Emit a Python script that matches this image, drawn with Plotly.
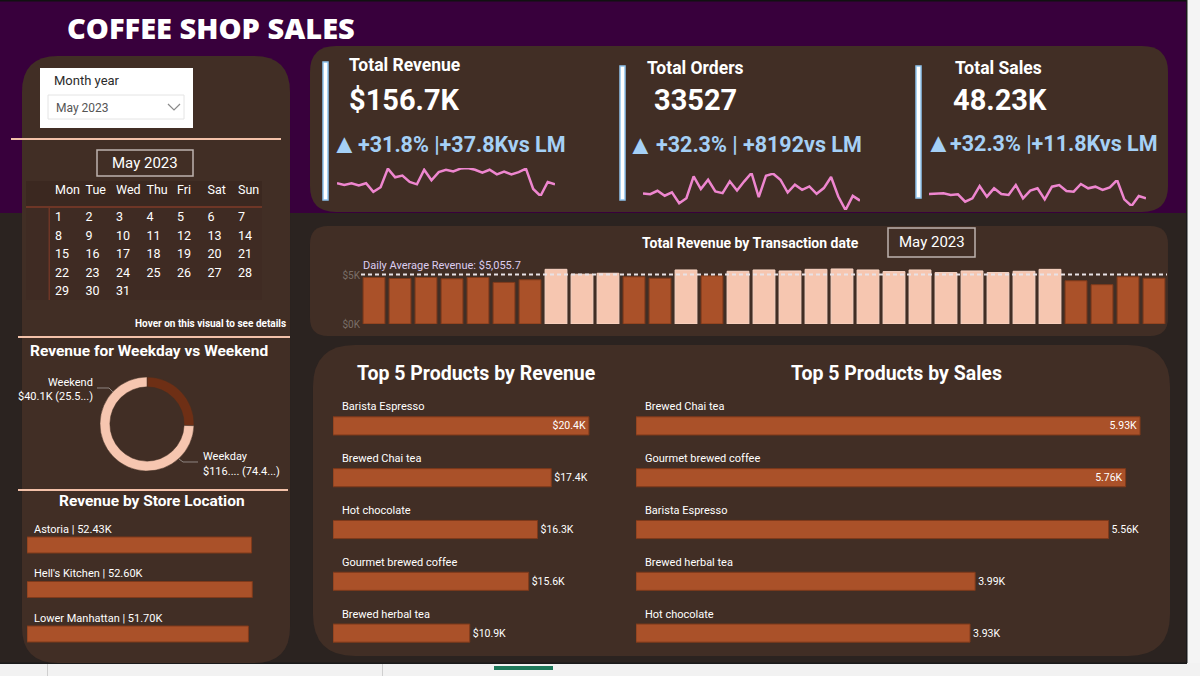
import calendar
import plotly.graph_objects as go

W, H = 1200, 676
YSPAN = 670  # vertical span used to map reference pixel rows onto the paper
FONT = "Roboto"

# ---------------- data ----------------
days = list(range(1, 32))
daily_revenue = [4745, 4644, 4745, 4614, 4745, 4247, 4514, 5583, 5082, 5180, 4815, 4681,
                 5517, 4916, 5383, 5517, 5416, 5583, 5617, 5517, 5350, 5517, 5249, 5416,
                 5249, 5383, 5578, 4414, 4013, 4815, 4681]
daily_orders = [1050, 1045, 1070, 1033, 1058, 977, 1015, 1177, 1083, 1152, 1065, 1052,
                1140, 1072, 1140, 1202, 1022, 1182, 1197, 1152, 1057, 1115, 1077, 1102,
                1047, 1090, 1172, 1027, 927, 1032, 997]
daily_sales = [1536, 1536, 1544, 1524, 1532, 1444, 1484, 1632, 1504, 1604, 1536, 1524,
               1644, 1484, 1576, 1604, 1472, 1624, 1644, 1572, 1564, 1656, 1604, 1624,
               1584, 1616, 1704, 1472, 1392, 1512, 1484]
revenue_delta = ["+31.8%", "+37.8K"]
orders_delta = ["+32.3%", "+8192"]
sales_delta = ["+32.3%", "+11.8K"]

day_types = ["Weekend", "Weekday"]
day_type_revenue = [40.1, 116.6]
day_type_labels = ["$40.1K (25.5...)", "$116.... (74.4...)"]

stores = ["Astoria", "Hell's Kitchen", "Lower Manhattan"]
store_revenue = [52.43, 52.60, 51.70]

top_rev_products = ["Barista Espresso", "Brewed Chai tea", "Hot chocolate",
                    "Gourmet brewed coffee", "Brewed herbal tea"]
top_rev_values = [20.4, 17.4, 16.3, 15.6, 10.9]
top_sales_products = ["Brewed Chai tea", "Gourmet brewed coffee", "Barista Espresso",
                      "Brewed herbal tea", "Hot chocolate"]
top_sales_values = [5.93, 5.76, 5.56, 3.99, 3.93]

weekday_names = ["Mon", "Tue", "Wed", "Thu", "Fri", "Sat", "Sun"]
year, month = 2023, 5
month_label = "May 2023"
rev_ticks = [0, 5000]
rev_tick_labels = ["$0K", "$5K"]

# ---------------- colours ----------------
PURPLE = "#38003c"
BG = "#2b2320"
PANEL = "#412e25"
DARK_BAR = "#aa5129"
LIGHT_BAR = "#f6c6b0"
PEACH = "#f3c1a9"
BLUE = "#a5d0f6"
PINK = "#ee86cf"

def px(x): return x / W
def py(y): return 1 - y / YSPAN
def dom_x(a, b): return [a / W, b / W]
def dom_y(top, bottom): return [max(0.0, py(bottom)), py(top)]

shapes, annotations = [], []

def rect(x0, y0, x1, y1, fill, line=None, lw=0, opacity=1):
    shapes.append(dict(type="rect", xref="paper", yref="paper", x0=px(x0), x1=px(x1),
                       y0=py(y1), y1=py(y0), fillcolor=fill, opacity=opacity,
                       line=dict(color=line or fill, width=lw), layer="below"))

def rrect(x0, y0, x1, y1, r, fill):
    P = lambda x, y: f"{px(x):.5f},{py(y):.5f}"
    path = (f"M {P(x0 + r, y0)} L {P(x1 - r, y0)} Q {P(x1, y0)} {P(x1, y0 + r)} "
            f"L {P(x1, y1 - r)} Q {P(x1, y1)} {P(x1 - r, y1)} L {P(x0 + r, y1)} "
            f"Q {P(x0, y1)} {P(x0, y1 - r)} L {P(x0, y0 + r)} Q {P(x0, y0)} {P(x0 + r, y0)} Z")
    shapes.append(dict(type="path", xref="paper", yref="paper", path=path,
                       fillcolor=fill, line=dict(width=0), layer="below"))

def seg(pts, color, w):
    P = lambda x, y: f"{px(x):.5f},{py(y):.5f}"
    path = "M " + " L ".join(P(x, y) for x, y in pts)
    shapes.append(dict(type="path", xref="paper", yref="paper", path=path,
                       line=dict(color=color, width=w), layer="below"))

def text(x, y, s, size, color="white", anchor="left", bold=False, family=FONT, weight=None):
    f = dict(size=size, color=color, family=family)
    if weight:
        f["weight"] = weight
    annotations.append(dict(xref="paper", yref="paper", x=px(x), y=py(y),
                            text=f"<b>{s}</b>" if bold else s, showarrow=False,
                            xanchor=anchor, yanchor="middle", font=f))

# ---------------- background ----------------
rect(0, 0, 1200, 690, BG)
rect(0, 0, 1187, 213, PURPLE)
rect(0, 0, 1200, 1.5, "#111111")
rect(1187, 0, 1200, 690, "#f4f4f4")
rect(1186, 0, 1187.5, 664, "#1a1a1a")
rect(0, 663, 1200, 690, "#f2f2f2")
rect(0, 662.5, 1187, 664, "#1a1a1a")
rect(47, 664, 48, 690, "#cfcfcf")
rect(382, 664, 383, 690, "#cfcfcf")
rect(494, 666, 553, 670, "#1f7a5c")

# panels
rrect(22, 56, 290, 663, 36, PANEL)
rrect(310, 46, 1168, 212, 26, PANEL)
rrect(310, 226, 1168, 336, 18, PANEL)
rrect(313, 345, 1170, 656, 42, PANEL)

# title
text(65, 28, "COFFEE SHOP SALES", 29, family="Open Sans", weight=800)

# ---------------- left panel ----------------
rect(40, 68, 193, 128, "#ffffff")
text(52, 81, "Month year", 13, color="#2b2b2b")
rect(48, 95, 184, 119, "#ffffff", line="#e4e4e4", lw=1)
text(54, 108, month_label, 12, color="#555555")
seg([(168, 104), (174, 110), (180, 104)], "#8a8a8a", 1.2)
rect(11, 138, 281, 140, PEACH)

rect(97, 150, 193, 176, PANEL, line="#bdb3ae", lw=1.5)
text(145, 163, month_label, 15, anchor="center")
rect(26, 181, 262, 300, "#3f2b23")
rect(26, 181, 262, 206, "#3b2820")
rect(26, 206, 262, 208, "#6e3626")
rect(48.5, 208, 50, 300, "#6e3626")
text(288, 323, "Hover on this visual to see details", 10, anchor="right", bold=True)

rect(18, 336, 290, 338, PEACH)
text(28, 351, "Revenue for Weekday vs Weekend", 15.5, bold=True)
text(95, 382, day_types[0], 11, anchor="right")
text(95, 397, day_type_labels[0], 11, anchor="right")
text(201, 456, day_types[1], 11)
text(201, 471, day_type_labels[1], 11)
seg([(97, 388), (109, 388), (113, 392)], "#8e8580", 1)
seg([(179, 459), (183, 462), (198, 462)], "#8e8580", 1)

rect(18, 489, 288, 491, PEACH)
text(152, 501, "Revenue by Store Location", 15.5, anchor="center", bold=True)

# ---------------- KPI cards ----------------
cards = [
    dict(bar=(323, 62, 200), tx=347, ty=65, title="Total Revenue",
         value=f"${sum(daily_revenue) / 1000:.1f}K", vx=347,
         tri=329, dx=356, dy=144, delta=f"{revenue_delta[0]} |{revenue_delta[1]}vs LM"),
    dict(bar=(620, 66, 200), tx=645, ty=68, title="Total Orders",
         value=f"{sum(daily_orders)}", vx=652,
         tri=625, dx=654, dy=145, delta=f"{orders_delta[0]} | {orders_delta[1]}vs LM"),
    dict(bar=(916, 66, 198), tx=953, ty=68, title="Total Sales",
         value=f"{sum(daily_sales) / 1000:.2f}K", vx=951,
         tri=923, dx=948, dy=143, delta=f"{sales_delta[0]} |{sales_delta[1]}vs LM"),
]
for c in cards:
    bx, b0, b1 = c["bar"]
    rect(bx, b0, bx + 5, b1, "#ffffff", line="#8fc4ee", lw=1.5)
    text(c["tx"], c["ty"], c["title"], 17.5, bold=True)
    text(c["vx"], 100, c["value"], 29, bold=True)
    text(c["tri"], c["dy"], "▲", 27, color=BLUE)
    text(c["dx"], c["dy"], c["delta"], 21.5, color=BLUE, bold=True)

# ---------------- daily revenue panel ----------------
text(750, 243, "Total Revenue by Transaction date", 14, anchor="center", bold=True)
rect(888, 228, 975, 257, PANEL, line="#bdb3ae", lw=1.5)
text(932, 242, month_label, 15, anchor="center")

avg_rev = sum(daily_revenue) / len(daily_revenue)
bar_colors = [LIGHT_BAR if v > avg_rev else DARK_BAR for v in daily_revenue]
bar_lines = ["#f9d6c6" if v > avg_rev else "#7f3a1b" for v in daily_revenue]

fig = go.Figure()
fig.add_trace(go.Bar(x=days, y=daily_revenue, marker=dict(color=bar_colors,
                     line=dict(color=bar_lines, width=1)), width=0.84,
                     xaxis="x", yaxis="y", hoverinfo="skip"))
fig.add_trace(go.Scatter(x=[0.5, 31.5], y=[avg_rev, avg_rev], mode="lines",
                         line=dict(color="#e8e2e6", width=2, dash="4px,3px"),
                         xaxis="x", yaxis="y", hoverinfo="skip"))
annotations.append(dict(xref="x", yref="y", x=0.5, y=avg_rev, xanchor="left",
                        yanchor="bottom", showarrow=False,
                        text=f"Daily Average Revenue: ${avg_rev:,.1f}",
                        font=dict(size=11, color="#dccdf0", family=FONT)))

# sparklines
for vals, ax, ay in [(daily_revenue, "x2", "y2"), (daily_orders, "x3", "y3"),
                     (daily_sales, "x4", "y4")]:
    fig.add_trace(go.Scatter(x=days, y=vals, mode="lines",
                             line=dict(color=PINK, width=2.5),
                             xaxis=ax, yaxis=ay, hoverinfo="skip"))

# calendar
weeks = calendar.monthcalendar(year, month)
cal_x, cal_y, cal_t = [], [], []
for r, wk in enumerate(weeks):
    for ci, d in enumerate(wk):
        if d:
            cal_x.append(ci); cal_y.append(r); cal_t.append(str(d))
fig.add_trace(go.Scatter(x=list(range(7)), y=[-1.46] * 7, text=weekday_names,
                         mode="text", textposition="middle right",
                         textfont=dict(size=12.5, color="white", family=FONT),
                         xaxis="x5", yaxis="y5", hoverinfo="skip", cliponaxis=False))
fig.add_trace(go.Scatter(x=cal_x, y=cal_y, text=cal_t, mode="text",
                         textposition="middle right",
                         textfont=dict(size=12.5, color="white", family=FONT),
                         xaxis="x5", yaxis="y5", hoverinfo="skip", cliponaxis=False))

# store bars
store_idx = list(range(len(stores)))
fig.add_trace(go.Bar(x=store_revenue, y=store_idx, orientation="h", width=0.36,
                     marker=dict(color=DARK_BAR, line=dict(color="#7f3a1b", width=1)),
                     xaxis="x6", yaxis="y6", hoverinfo="skip"))
for i, (s, v) in enumerate(zip(stores, store_revenue)):
    annotations.append(dict(xref="x6", yref="y6", x=0, y=i, xanchor="left",
                            yanchor="middle", xshift=5, yshift=16, showarrow=False,
                            text=f"{s} | {v:.2f}K",
                            font=dict(size=11, color="white", family=FONT)))

# top 5 products
rev_idx = list(range(len(top_rev_products)))
fig.add_trace(go.Bar(x=top_rev_values, y=rev_idx, orientation="h", width=0.35,
                     marker=dict(color=DARK_BAR, line=dict(color="#7f3a1b", width=1)),
                     text=[f"${v:.1f}K" for v in top_rev_values],
                     textposition=["inside"] + ["outside"] * 4,
                     insidetextanchor="end", constraintext="none", textangle=0,
                     textfont=dict(size=10.5, color="white", family=FONT),
                     cliponaxis=False, xaxis="x7", yaxis="y7", hoverinfo="skip"))
sales_idx = list(range(len(top_sales_products)))
fig.add_trace(go.Bar(x=top_sales_values, y=sales_idx, orientation="h", width=0.35,
                     marker=dict(color=DARK_BAR, line=dict(color="#7f3a1b", width=1)),
                     text=[f"{v:.2f}K" for v in top_sales_values],
                     textposition=["inside"] * 2 + ["outside"] * 3,
                     insidetextanchor="end", constraintext="none", textangle=0,
                     textfont=dict(size=10.5, color="white", family=FONT),
                     cliponaxis=False, xaxis="x8", yaxis="y8", hoverinfo="skip"))
for names, ax, ay in [(top_rev_products, "x7", "y7"), (top_sales_products, "x8", "y8")]:
    for i, n in enumerate(names):
        annotations.append(dict(xref=ax, yref=ay, x=0, y=i, xanchor="left",
                                yanchor="middle", xshift=7, yshift=19, showarrow=False,
                                text=n, font=dict(size=11, color="white", family=FONT)))
text(476, 373, "Top 5 Products by Revenue", 19.5, anchor="center", bold=True)
text(896, 373, "Top 5 Products by Sales", 19.5, anchor="center", bold=True)

# donut
fig.add_trace(go.Pie(labels=day_types, values=day_type_revenue, hole=0.79, sort=False,
                     direction="counterclockwise", rotation=0, textinfo="none",
                     marker=dict(colors=["#6e2f15", LIGHT_BAR], line=dict(color=PANEL, width=0.5)),
                     domain=dict(x=dom_x(100, 194), y=dom_y(377, 471)),
                     hoverinfo="skip", showlegend=False))

hidden = dict(visible=False, showgrid=False, zeroline=False, fixedrange=True)
layout_axes = dict(
    xaxis=dict(hidden, domain=dom_x(361, 1167), range=[0.5, 31.5], anchor="y"),
    yaxis=dict(domain=dom_y(262, 324), range=[0, 6330], tickvals=rev_ticks,
               ticktext=rev_tick_labels, showgrid=False, zeroline=False, showline=False,
               ticks="", tickfont=dict(size=10, color="#7a6e68", family=FONT),
               anchor="x", fixedrange=True),
    xaxis2=dict(hidden, domain=dom_x(337, 555), range=[1, 31], anchor="y2"),
    yaxis2=dict(hidden, domain=dom_y(168, 196), range=[min(daily_revenue), max(daily_revenue)], anchor="x2"),
    xaxis3=dict(hidden, domain=dom_x(643, 860), range=[1, 31], anchor="y3"),
    yaxis3=dict(hidden, domain=dom_y(173, 210), range=[min(daily_orders), max(daily_orders)], anchor="x3"),
    xaxis4=dict(hidden, domain=dom_x(929, 1146), range=[1, 31], anchor="y4"),
    yaxis4=dict(hidden, domain=dom_y(180, 206), range=[min(daily_sales), max(daily_sales)], anchor="x4"),
    xaxis5=dict(hidden, domain=dom_x(55, 238), range=[0, 6], anchor="y5"),
    yaxis5=dict(hidden, domain=dom_y(180, 300), range=[4.43, -2.05], anchor="x5"),
    xaxis6=dict(hidden, domain=dom_x(27, 284), range=[0, 60], anchor="y6"),
    yaxis6=dict(hidden, domain=dom_y(522.75, 656.25), range=[2.5, -0.5], anchor="x6"),
    xaxis7=dict(hidden, domain=dom_x(333, 609), range=[0, 22], anchor="y7"),
    yaxis7=dict(hidden, domain=dom_y(400, 659), range=[4.5, -0.5], anchor="x7"),
    xaxis8=dict(hidden, domain=dom_x(636, 1163), range=[0, 6.2], anchor="y8"),
    yaxis8=dict(hidden, domain=dom_y(400, 659), range=[4.5, -0.5], anchor="x8"),
)

fig.update_layout(
    width=W, height=H, autosize=False,
    margin=dict(l=0, r=0, t=0, b=0, pad=0),
    paper_bgcolor=BG, plot_bgcolor="rgba(0,0,0,0)",
    showlegend=False, bargap=0, shapes=shapes, annotations=annotations,
    font=dict(family=FONT, color="white"),
    **layout_axes,
)

fig.write_html("out.html", config=dict(displayModeBar=False, staticPlot=True))
